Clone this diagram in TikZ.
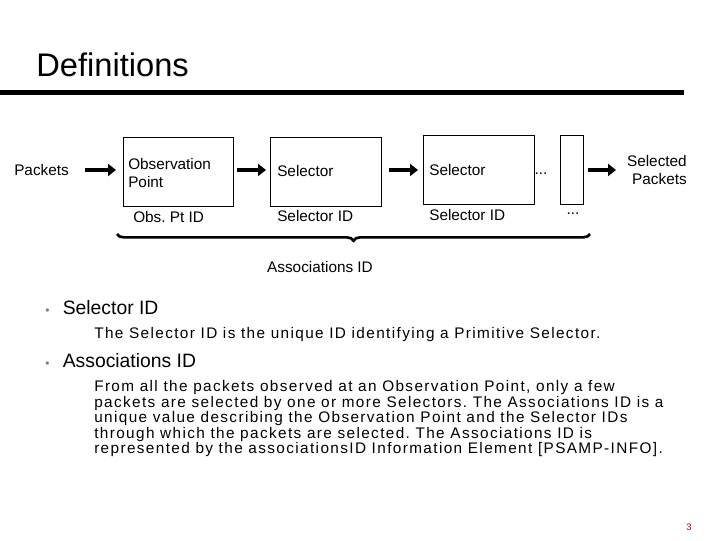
\documentclass[tikz,border=0pt]{standalone}
\usepackage{fontspec}
\setmainfont{Liberation Sans}
\usetikzlibrary{decorations.pathreplacing,arrows.meta}
\begin{document}
\frenchspacing
\begin{tikzpicture}[x=0.75pt,y=-0.75pt,
  box/.style={draw,line width=0.75pt,minimum width=#1*0.75pt,minimum height=69*0.75pt,inner sep=0pt},
  fat/.style={line width=3.5pt,-{Triangle[length=6pt,width=9pt]}},
  lbl/.style={font=\fontsize{11.5}{14}\selectfont,inner sep=0pt},
  para/.style={font=\fontsize{11.5}{13}\selectfont\addfontfeature{LetterSpace=9},anchor=west,inner sep=0pt}]
\useasboundingbox (0,0) rectangle (720,540);
\node[anchor=west,inner sep=0pt,font=\fontsize{24.5}{28}\selectfont] (title) at (36,65) {Definitions};
\fill (0,90) rectangle (684,95);
\node[box=110] (b1) at (178,172) {};
\node[box=111] (b2) at (326,172) {};
\node[box=111] (b3) at (479,170) {};
\node[box=23] (b4) at (572,170) {};
\node[lbl,anchor=west] (pk) at (14,170) {Packets};
\node[lbl,anchor=west,align=left] (t1) at (128,173) {Observation\\Point};
\node[lbl,anchor=west] (t2) at (277,171) {Selector};
\node[lbl,anchor=west] (t3) at (429,170) {Selector};
\node[lbl] (d1) at (541,174) {...};
\node[lbl,anchor=east,align=right] (sp) at (687,170) {Selected\\Packets};
\node[lbl,anchor=west] (i1) at (133,217) {Obs. Pt ID};
\node[lbl,anchor=west] (i2) at (277,216) {Selector ID};
\node[lbl,anchor=west] (i3) at (429,215) {Selector ID};
\node[lbl] (d2) at (573,214) {...};
\coordinate (a0) at (85,170); \coordinate (a1) at (116,170);
\coordinate (c0) at (237,170); \coordinate (c1) at (266,170);
\coordinate (e0) at (389,170); \coordinate (e1) at (418,170);
\coordinate (g0) at (588,170); \coordinate (g1) at (616,170);
\draw[fat] (a0) -- (a1);
\draw[fat] (c0) -- (c1);
\draw[fat] (e0) -- (e1);
\draw[fat] (g0) -- (g1);
\coordinate (br0) at (590,234); \coordinate (br1) at (117,234);
\draw[line width=2pt,decorate,decoration={brace,amplitude=5pt}] (br0) -- (br1);
\node[lbl] (as) at (320,267) {Associations ID};
\node[anchor=west,inner sep=0pt,font=\fontsize{14.5}{17}\selectfont] (s1) at (45,308) {\textcolor{gray}{\fontsize{9}{10}\selectfont•}\hspace{10pt}Selector ID};
\node[para] (p1) at (94,335) {The Selector ID is the unique ID identifying a Primitive Selector.};
\node[anchor=west,inner sep=0pt,font=\fontsize{14.5}{17}\selectfont] (s2) at (45,361) {\textcolor{gray}{\fontsize{9}{10}\selectfont•}\hspace{10pt}Associations ID};
\node[para] (q1) at (94,388) {From all the packets observed at an Observation Point, only a few};
\node[para] (q2) at (94,404) {packets are selected by one or more Selectors. The Associations ID is a};
\node[para] (q3) at (94,419) {unique value describing the Observation Point and the Selector IDs};
\node[para] (q4) at (94,435) {through which the packets are selected. The Associations ID is};
\node[para] (q5) at (94,450) {represented by the associationsID Information Element [PSAMP-INFO].};
\node[inner sep=0pt,font=\fontsize{7}{8}\selectfont,text=red!70!black] (pg) at (689,527) {3};
\end{tikzpicture}
\end{document}
